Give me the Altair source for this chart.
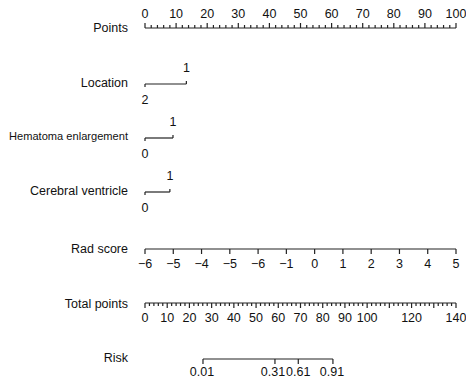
import altair as alt
import pandas as pd
import numpy as np

# ---------------- data ----------------
points_ticks = list(range(0, 101, 10))
location_levels = ["2", "1"]
location_points = [0, 13.3]
hematoma_levels = ["0", "1"]
hematoma_points = [0, 9.0]
ventricle_levels = ["0", "1"]
ventricle_points = [0, 8.0]
rad_labels = ["\u22126", "\u22125", "\u22124", "\u22125", "\u22126", "\u22121", "0", "1", "2", "3", "4", "5"]
total_labels = [0, 10, 20, 30, 40, 50, 60, 70, 80, 90, 100, 120, 140]
total_max = 140
risk_labels = ["0.01", "0.31", "0.61", "0.91"]
risk_total_points = [26.1, 58.5, 69.0, 84.6]

row_names = ["Points", "Location", "Hematoma enlargement", "Cerebral ventricle",
             "Rad score", "Total points", "Risk"]

# ---------------- layout (page pixel rows) ----------------
row_y = {"Points": 28, "Location": 84, "Hematoma enlargement": 138,
         "Cerebral ventricle": 192, "Rad score": 249, "Total points": 303, "Risk": 359}
label_y = {"Points": 28, "Location": 83, "Hematoma enlargement": 137,
           "Cerebral ventricle": 191, "Rad score": 249, "Total points": 304, "Risk": 358}
risk_label_dx = [-1, -2, 0, -1]

W, H = 458, 371
X = alt.X("x:Q", scale=alt.Scale(domain=[0, 100], range=[137, 448]), axis=None)
Y = alt.Y("y:Q", scale=alt.Scale(domain=[8, 8 + H], range=[0, H]), axis=None)
Y2 = alt.Y2("y2:Q")
LINE = "#222222"
FONT = "Liberation Sans"
FS = 12.5

segs, ticks, labels = [], [], []

def tp(v):
    return v * 100.0 / total_max

# Points axis (ticks up)
yP = row_y["Points"]
segs.append(dict(x=0, x2=100, y=yP))
for v in range(0, 101, 2):
    L = 5 if v % 10 == 0 else 3
    ticks.append(dict(x=v, y=yP, y2=yP - L))
for v in points_ticks:
    labels.append(dict(x=v, y=yP - 14, t=str(v), dx=0))

# categorical rows
def cat_row(name, levels, pts):
    y = row_y[name]
    segs.append(dict(x=min(pts), x2=max(pts), y=y))
    ticks.append(dict(x=pts[0], y=y, y2=y + 3))
    ticks.append(dict(x=pts[1], y=y, y2=y - 3))
    labels.append(dict(x=pts[0], y=y + 16, t=levels[0], dx=0))
    labels.append(dict(x=pts[1], y=y - 16, t=levels[1], dx=0))

cat_row("Location", location_levels, location_points)
cat_row("Hematoma enlargement", hematoma_levels, hematoma_points)
cat_row("Cerebral ventricle", ventricle_levels, ventricle_points)

# Rad score
yR = row_y["Rad score"]
segs.append(dict(x=0, x2=100, y=yR))
n = len(rad_labels)
for i, lab in enumerate(rad_labels):
    xv = i * 100.0 / (n - 1)
    ticks.append(dict(x=xv, y=yR, y2=yR + 5))
    labels.append(dict(x=xv, y=yR + 15, t=lab, dx=0))

# Total points (ticks down)
yT = row_y["Total points"]
segs.append(dict(x=0, x2=100, y=yT))
for v in range(0, total_max + 1, 2):
    L = 5 if v % 10 == 0 else 3
    ticks.append(dict(x=tp(v), y=yT, y2=yT + L))
for v in total_labels:
    labels.append(dict(x=tp(v), y=yT + 15, t=str(v), dx=0))

# Risk
yK = row_y["Risk"]
segs.append(dict(x=tp(risk_total_points[0]), x2=tp(risk_total_points[-1]), y=yK))
for lab, v, d in zip(risk_labels, risk_total_points, risk_label_dx):
    ticks.append(dict(x=tp(v), y=yK, y2=yK + 5))
    labels.append(dict(x=tp(v), y=yK + 13, t=lab, dx=d))

seg_df = pd.DataFrame(segs)
tick_df = pd.DataFrame(ticks)
lab_df = pd.DataFrame(labels)
lab_df["x"] = lab_df["x"] + lab_df["dx"] * 100.0 / 311.0
row_df = pd.DataFrame(dict(t=row_names, y=[label_y[r] for r in row_names],
                           fs=[FS if r != "Hematoma enlargement" else 11.1 for r in row_names]))

seg_layer = alt.Chart(seg_df).mark_rule(color=LINE, strokeWidth=1.2).encode(
    x=X, x2=alt.X2("x2:Q"), y=Y)
tick_layer = alt.Chart(tick_df).mark_rule(color=LINE, strokeWidth=1.2).encode(
    x=X, y=Y, y2=Y2)
lab_layer = alt.Chart(lab_df).mark_text(font=FONT, fontSize=FS, color="#111111",
                                        align="center", baseline="middle").encode(
    x=X, y=Y, text="t:N")
row_layer = alt.Chart(row_df).mark_text(font=FONT, color="#111111",
                                        align="right", baseline="middle").encode(
    x=alt.value(120), y=Y, text="t:N",
    size=alt.Size("fs:Q", scale=None, legend=None))

chart = alt.layer(seg_layer, tick_layer, lab_layer, row_layer).properties(
    width=W, height=H, autosize=alt.AutoSizeParams(type="none"), padding=0,
    background="white"
).configure_view(stroke=None)

chart.save("out.html", embed_options={"renderer": "svg", "actions": False})
